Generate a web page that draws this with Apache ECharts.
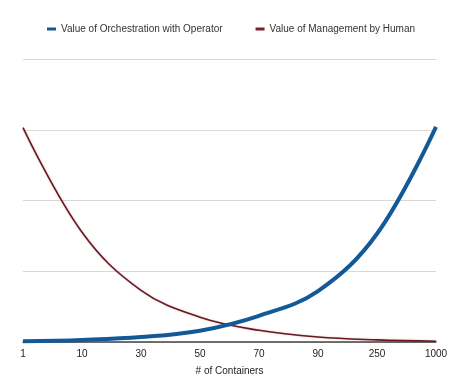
<!DOCTYPE html>
<html>
<head>
<meta charset="utf-8">
<script src="https://cdn.jsdelivr.net/npm/echarts@6/dist/echarts.min.js"></script>
<style>
html,body{margin:0;padding:0;background:#fff;}
#chart{width:474px;height:386px;}
</style>
</head>
<body>
<div id="chart"></div>
<script>
var categories = ['1', '10', '30', '50', '70', '90', '250', '1000'];
var operatorValues = [0.01, 0.03, 0.07, 0.16, 0.37, 0.72, 1.53, 3.04];
var humanValues = [3.03, 1.55, 0.73, 0.35, 0.165, 0.07, 0.03, 0.01];
var seriesNames = ['Value of Orchestration with Operator', 'Value of Management by Human'];

var chart = echarts.init(document.getElementById('chart'));
chart.setOption({
  animation: false,
  backgroundColor: '#fff',
  textStyle: { fontFamily: 'Liberation Sans, Arial, sans-serif' },
  legend: {
    top: 19,
    left: 42,
    itemGap: 33,
    itemWidth: 9,
    itemHeight: 3,
    icon: 'rect',
    textStyle: { fontSize: 10, color: '#333', fontFamily: 'Liberation Sans, Arial, sans-serif' },
    data: seriesNames
  },
  grid: { left: 23, right: 38, top: 59, bottom: 44 },
  xAxis: {
    type: 'category',
    data: categories,
    boundaryGap: false,
    name: '# of Containers',
    nameLocation: 'middle',
    nameGap: 24,
    nameTextStyle: { fontSize: 10, color: '#222' },
    axisLine: { lineStyle: { color: '#444', width: 1.5 } },
    axisTick: { show: false },
    axisLabel: { fontSize: 10, color: '#222', margin: 7 }
  },
  yAxis: {
    type: 'value',
    min: 0,
    max: 4,
    interval: 1,
    axisLine: { show: false },
    axisTick: { show: false },
    axisLabel: { show: false },
    splitLine: { lineStyle: { color: '#d8d8d8', width: 1 } }
  },
  series: [
    {
      name: seriesNames[0],
      type: 'line',
      data: operatorValues,
      smooth: 0.38,
      symbol: 'none',
      z: 3,
      itemStyle: { color: '#125a97' },
      lineStyle: { color: '#125a97', width: 4 }
    },
    {
      name: seriesNames[1],
      type: 'line',
      data: humanValues,
      smooth: 0.38,
      symbol: 'none',
      z: 2,
      itemStyle: { color: '#7d1f2c' },
      lineStyle: { color: '#6a1824', width: 1.6, shadowColor: 'rgba(160,60,70,0.35)', shadowBlur: 2 }
    }
  ]
});
</script>
</body>
</html>
